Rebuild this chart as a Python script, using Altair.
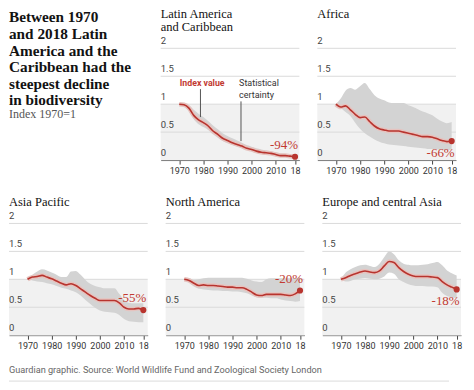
import altair as alt
import pandas as pd

# ---------------- data ----------------
years = list(range(1970, 2019, 2))

region_titles = [
    ["Latin America", "and Caribbean"],
    ["Africa"],
    ["Asia Pacific"],
    ["North America"],
    ["Europe and central Asia"],
]

latam_index = [1.00, 0.99, 0.93, 0.80, 0.72, 0.67, 0.61, 0.52, 0.46, 0.39, 0.35, 0.31, 0.28,
               0.25, 0.21, 0.19, 0.16, 0.14, 0.13, 0.12, 0.10, 0.08, 0.08, 0.07, 0.06]
latam_upper = [1.00, 1.01, 0.98, 0.90, 0.83, 0.77, 0.70, 0.62, 0.55, 0.48, 0.43, 0.39, 0.35,
               0.31, 0.27, 0.24, 0.21, 0.19, 0.17, 0.16, 0.14, 0.12, 0.11, 0.10, 0.09]
latam_lower = [1.00, 0.97, 0.88, 0.73, 0.64, 0.59, 0.54, 0.46, 0.40, 0.34, 0.30, 0.27, 0.24,
               0.21, 0.18, 0.16, 0.13, 0.11, 0.10, 0.09, 0.07, 0.06, 0.06, 0.05, 0.04]

africa_index = [1.00, 0.95, 0.97, 0.90, 0.82, 0.76, 0.77, 0.69, 0.61, 0.56, 0.54, 0.52, 0.52,
                0.52, 0.50, 0.48, 0.46, 0.44, 0.42, 0.42, 0.41, 0.38, 0.35, 0.33, 0.34]
africa_upper = [1.00, 1.10, 1.24, 1.29, 1.26, 1.32, 1.38, 1.27, 1.16, 1.10, 1.07, 1.03, 1.02,
                1.02, 1.02, 0.98, 0.95, 0.91, 0.87, 0.84, 0.80, 0.74, 0.69, 0.66, 0.68]
africa_lower = [1.00, 0.93, 0.86, 0.79, 0.67, 0.56, 0.48, 0.42, 0.37, 0.33, 0.30, 0.28, 0.27,
                0.26, 0.25, 0.24, 0.23, 0.22, 0.21, 0.20, 0.20, 0.19, 0.18, 0.18, 0.19]

asia_index = [1.00, 1.04, 1.05, 1.07, 1.04, 1.01, 0.97, 0.93, 0.90, 0.92, 0.89, 0.83, 0.77,
              0.71, 0.66, 0.62, 0.62, 0.62, 0.62, 0.58, 0.50, 0.47, 0.47, 0.48, 0.45]
asia_upper = [1.00, 1.08, 1.14, 1.18, 1.16, 1.12, 1.08, 1.04, 1.04, 1.14, 1.15, 1.08, 0.99,
              0.92, 0.88, 0.86, 0.84, 0.84, 0.84, 0.74, 0.63, 0.58, 0.57, 0.57, 0.57]
asia_lower = [1.00, 0.98, 0.96, 0.95, 0.93, 0.91, 0.88, 0.85, 0.83, 0.80, 0.77, 0.71, 0.63,
              0.56, 0.49, 0.44, 0.42, 0.41, 0.40, 0.36, 0.29, 0.25, 0.24, 0.23, 0.23]

namerica_index = [1.00, 0.98, 0.93, 0.89, 0.90, 0.89, 0.89, 0.88, 0.87, 0.86, 0.86, 0.85, 0.85,
                  0.82, 0.77, 0.72, 0.71, 0.73, 0.73, 0.73, 0.73, 0.72, 0.71, 0.74, 0.80]
namerica_upper = [1.00, 1.02, 0.99, 1.00, 1.02, 1.03, 1.03, 1.03, 1.03, 1.03, 1.03, 1.03, 1.03,
                  1.01, 0.98, 0.96, 0.95, 1.00, 1.02, 1.02, 1.02, 1.02, 1.02, 1.02, 1.04]
namerica_lower = [1.00, 0.94, 0.87, 0.83, 0.82, 0.81, 0.80, 0.80, 0.79, 0.79, 0.78, 0.78, 0.77,
                  0.75, 0.71, 0.68, 0.67, 0.67, 0.66, 0.66, 0.64, 0.62, 0.61, 0.60, 0.61]

europe_index = [1.00, 1.03, 1.07, 1.10, 1.13, 1.15, 1.13, 1.12, 1.15, 1.24, 1.32, 1.30, 1.21,
                1.14, 1.09, 1.06, 1.05, 1.05, 1.05, 1.04, 1.03, 0.96, 0.90, 0.86, 0.82]
europe_upper = [1.00, 1.12, 1.18, 1.22, 1.25, 1.26, 1.24, 1.22, 1.28, 1.40, 1.50, 1.45, 1.34,
                1.28, 1.26, 1.25, 1.25, 1.26, 1.27, 1.29, 1.31, 1.25, 1.16, 1.11, 1.07]
europe_lower = [1.00, 0.96, 0.97, 1.00, 1.01, 1.02, 1.01, 1.00, 1.01, 1.05, 1.12, 1.10, 1.00,
                0.95, 0.91, 0.89, 0.88, 0.88, 0.87, 0.87, 0.86, 0.76, 0.70, 0.68, 0.66]

change_labels = ["-94%", "-66%", "-55%", "-20%", "-18%"]
label_side = ["above", "below", "above", "above", "below"]

y_ticks = [0, 0.5, 1, 1.5, 2]
y_tick_labels = ["0", "0.5", "1", "1.5", "2"]
x_ticks = [1970, 1980, 1990, 2000, 2010, 2018]
shade_range = [0, 1]

headline = ["Between 1970", "and 2018 Latin", "America and the",
            "Caribbean had the", "steepest decline", "in biodiversity"]
subhead = "Index 1970=1"
source = "Guardian graphic. Source: World Wildlife Fund and Zoological Society London"

annot_index_text = "Index value"
annot_band_text = ["Statistical", "certainty"]

series = [
    (latam_index, latam_lower, latam_upper),
    (africa_index, africa_lower, africa_upper),
    (asia_index, asia_lower, asia_upper),
    (namerica_index, namerica_lower, namerica_upper),
    (europe_index, europe_lower, europe_upper),
]

# ---------------- styles ----------------
SANS = "Roboto, sans-serif"
SERIF = "Liberation Serif, serif"
RED = "#b8342e"
LABEL_RED = "#c23a32"
W, H = 139, 151
Y_RANGE = [151, 39]
COL_SP = 12
TITLE_LH = 13

xs = alt.Scale(domain=[1962.3, 2019.8], nice=False, zero=False)
ys = alt.Scale(domain=[0, 2], range=Y_RANGE, nice=False, zero=False)
x_axis = alt.Axis(values=x_ticks, title=None, grid=False,
                  labelExpr="datum.value == 2018 ? '18' : '' + datum.value",
                  domainColor="#7a7a7a", tickColor="#444", tickSize=4,
                  labelFont=SANS, labelFontSize=9, labelColor="#333",
                  labelPadding=2, labelOverlap=False, labelFlush=False, labelBound=False)
X = alt.X("year:Q", scale=xs, axis=x_axis)


def panel(i, title_center):
    idx, lo, hi = series[i]
    df = pd.DataFrame({"year": years, "index": idx, "lo": lo, "hi": hi})
    end = df.tail(1).assign(label=change_labels[i])
    dy = -12 if label_side[i] == "above" else 12

    shade = alt.Chart(pd.DataFrame({"a": [shade_range[0]], "b": [shade_range[1]]})).mark_rect(
        color="#f1f1f1").encode(
        x=alt.value(0), x2=alt.value(W),
        y=alt.Y("a:Q", scale=ys, axis=None), y2="b:Q")
    grid = alt.Chart(pd.DataFrame({"v": y_ticks[1:]})).mark_rule(
        color="#dadada", strokeWidth=1).encode(
        x=alt.value(0), x2=alt.value(W),
        y=alt.Y("v:Q", scale=ys, axis=None))
    ylab = alt.Chart(pd.DataFrame({"v": y_ticks, "t": y_tick_labels})).mark_text(
        align="left", baseline="alphabetic", dy=-4, font=SANS, fontSize=9.5,
        color="#444").encode(
        x=alt.value(0), y=alt.Y("v:Q", scale=ys, axis=None), text="t:N")
    band = alt.Chart(df).mark_area(color="#d3d3d3", interpolate="monotone").encode(
        x=X, y=alt.Y("lo:Q", scale=ys, axis=None), y2="hi:Q")
    halo = alt.Chart(df).mark_line(color="#e6c3bf", strokeWidth=4.5,
                                   interpolate="monotone").encode(
        x=X, y=alt.Y("index:Q", scale=ys, axis=None))
    line = alt.Chart(df).mark_line(color=RED, strokeWidth=1.6,
                                   interpolate="monotone").encode(
        x=X, y=alt.Y("index:Q", scale=ys, axis=None))
    pt = alt.Chart(end).mark_circle(color=RED, size=38, opacity=1).encode(
        x=X, y=alt.Y("index:Q", scale=ys, axis=None))
    lab = alt.Chart(end).mark_text(align="right", baseline="middle", dx=3, dy=dy,
                                   font=SERIF, fontSize=13, color=LABEL_RED).encode(
        x=X, y=alt.Y("index:Q", scale=ys, axis=None), text="label:N")
    layers = [shade, grid, ylab, band, halo, line, pt, lab]
    for k, txt in enumerate(region_titles[i]):
        layers.append(alt.Chart(end).mark_text(
            align="left", baseline="middle", font=SERIF, fontSize=12.5,
            color="#121212").encode(
            x=alt.value(0), y=alt.value(title_center + k * TITLE_LH),
            text=alt.value(txt)))

    if i == 0:
        ann_idx = alt.Chart(pd.DataFrame({"year": [1979.5], "v": [1.375],
                                          "t": [annot_index_text]})).mark_text(
            align="center", baseline="middle", font=SANS, fontSize=8.8,
            fontWeight="bold", color=LABEL_RED).encode(
            x=X, y=alt.Y("v:Q", scale=ys, axis=None), text="t:N")
        ann_idx_rule = alt.Chart(pd.DataFrame({"year": [1978.8], "a": [1.27], "b": [0.77]})).mark_rule(
            color="#555", strokeWidth=1).encode(
            x=X, y=alt.Y("a:Q", scale=ys, axis=None), y2="b:Q")
        ann_band = alt.Chart(pd.DataFrame({"year": [1994.8, 1994.8], "v": [1.375, 1.16],
                                           "t": annot_band_text})).mark_text(
            align="left", baseline="middle", font=SANS, fontSize=9,
            color="#333").encode(
            x=X, y=alt.Y("v:Q", scale=ys, axis=None), text="t:N")
        ann_band_rule = alt.Chart(pd.DataFrame({"year": [1995.6], "a": [1.05], "b": [0.34]})).mark_rule(
            color="#555", strokeWidth=1).encode(
            x=X, y=alt.Y("a:Q", scale=ys, axis=None), y2="b:Q")
        layers += [ann_idx_rule, ann_band_rule, ann_idx, ann_band]

    return alt.layer(*layers).properties(width=W, height=H)


dummy = pd.DataFrame({"a": [0]})
head = alt.Chart(dummy).mark_text(
    align="left", baseline="top", font=SERIF, fontWeight="bold", fontSize=15.3,
    lineHeight=16.6, color="#121212").encode(
    x=alt.value(0), y=alt.value(1), text=alt.value(headline))
sub = alt.Chart(dummy).mark_text(
    align="left", baseline="middle", font=SERIF, fontSize=12, color="#555").encode(
    x=alt.value(0), y=alt.value(105), text=alt.value(subhead))
head_panel = alt.layer(head, sub).properties(width=W, height=H)

FW = 3 * W + 2 * COL_SP
foot_text = alt.Chart(dummy).mark_text(
    align="left", baseline="middle", font=SANS, fontSize=9.2, color="#666").encode(
    x=alt.value(0), y=alt.value(10.5), text=alt.value(source))
foot_rule = alt.Chart(dummy).mark_rule(color="#dcdcdc", strokeWidth=1).encode(
    x=alt.value(0), x2=alt.value(FW), y=alt.value(21.5))
footer = alt.layer(foot_text, foot_rule).properties(width=FW, height=23)

row1 = alt.hconcat(head_panel, panel(0, 5), panel(1, 5), spacing=COL_SP)
row2 = alt.hconcat(panel(2, 17.5), panel(3, 17.5), panel(4, 17.5), spacing=COL_SP)

chart = alt.vconcat(row1, row2, footer, spacing=9.5).properties(
    padding=0, background="white"
).configure_view(stroke=None)

chart.save("out.html", embed_options={"renderer": "svg", "actions": False})
